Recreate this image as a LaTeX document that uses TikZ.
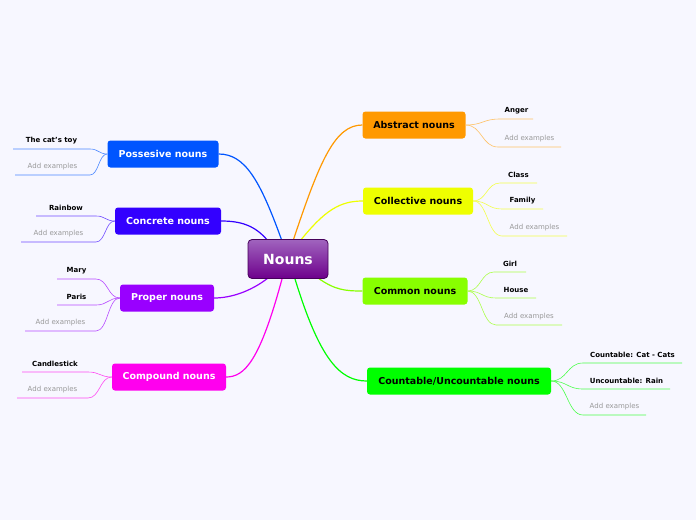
\documentclass[tikz,border=0pt]{standalone}
\usepackage{fontspec}
\setmainfont{DejaVu Sans}
\usetikzlibrary{calc}
\newcommand\leaf[8]{% name, from, color, inner-x, y, outer-x, style, text
 \coordinate (#1a) at (#4,#5); \coordinate (#1b) at (#6,#5);
 \coordinate (#1m) at ($(#2)!0.5!(#1a)$);
 \draw[ln,color=#3] (#2) .. controls (#1m |- #2) and (#1m |- #1a) .. (#1a) -- (#1b);
 \node[#7] (#1) at ($(#1a)!0.5!(#1b)+(0,-8)$) {#8};}
\begin{document}
\begin{tikzpicture}[x=1pt,y=-1pt,
 br/.style={rounded corners=3pt,font=\fontsize{9.5}{11}\selectfont\bfseries,inner sep=0,minimum height=27pt},
 lf/.style={font=\fontsize{7}{8}\selectfont\bfseries,inner sep=0},
 ad/.style={font=\fontsize{7}{8}\selectfont,text=gray!80,inner sep=0},
 ln/.style={line width=0.6pt}, cn/.style={line width=1.2pt}]
\fill[blue!3] (0,0) rectangle (696,520);
\useasboundingbox (0,0) rectangle (696,520);
\definecolor{cAb}{RGB}{255,153,0}
\definecolor{cCo}{RGB}{238,255,0}
\definecolor{cCm}{RGB}{136,255,0}
\definecolor{cCu}{RGB}{0,255,0}
\definecolor{cPo}{RGB}{0,85,255}
\definecolor{cCc}{RGB}{51,0,255}
\definecolor{cPr}{RGB}{153,0,255}
\definecolor{cCp}{RGB}{255,0,238}
% branches
\node[br,fill=cAb,minimum width=103pt] (ab) at (414,125) {Abstract nouns};
\node[br,fill=cCo,minimum width=110pt] (co) at (418,201) {Collective nouns};
\node[br,fill=cCm,minimum width=105pt] (cm) at (415,291) {Common nouns};
\node[br,fill=cCu,minimum width=184pt] (cu) at (459,381) {Countable/Uncountable nouns};
\node[br,fill=cPo,text=white,minimum width=111pt] (po) at (163,154) {Possesive nouns};
\node[br,fill=cCc,text=white,minimum width=106pt] (cc) at (168,221) {Concrete nouns};
\node[br,fill=cPr,text=white,minimum width=94pt] (pr) at (167,298) {Proper nouns};
\node[br,fill=cCp,text=white,minimum width=114pt] (cp) at (169,377) {Compound nouns};
% connectors from main
\draw[cn,cAb] (293,241) .. controls (320,160) and (335,125) .. (ab.west);
\draw[cn,cCo] (300,241) .. controls (325,210) and (340,201) .. (co.west);
\draw[cn,cCm] (318,278) .. controls (335,290) and (345,291) .. (cm.west);
\draw[cn,cCu] (295,279) .. controls (320,360) and (340,381) .. (cu.west);
\draw[cn,cPo] (282,241) .. controls (260,180) and (245,154) .. (po.east);
\draw[cn,cCc] (268,241) .. controls (255,225) and (240,221) .. (cc.east);
\draw[cn,cPr] (268,278) .. controls (250,292) and (230,298) .. (pr.east);
\draw[cn,cCp] (282,279) .. controls (260,360) and (245,377) .. (cp.east);
\node[draw={rgb,255:red,70;green,0;blue,90},line width=0.8pt,rounded corners=4pt,minimum width=80pt,minimum height=39pt,inner sep=0,
 top color={rgb,255:red,160;green,100;blue,190},bottom color={rgb,255:red,110;green,0;blue,140},
 text=white,font=\fontsize{14}{16}\selectfont\bfseries] (main) at (288,259) {Nouns};
% leaves
\leaf{l1}{ab.east}{cAb!60}{500}{119}{533}{lf}{Anger}
\leaf{l2}{ab.east}{cAb!60}{498}{147}{561}{ad}{Add examples}
\leaf{l3}{co.east}{cCo!70}{500}{183}{537}{lf}{Class}
\leaf{l4}{co.east}{cCo!70}{502}{209}{543}{lf}{Family}
\leaf{l5}{co.east}{cCo!70}{502}{236}{567}{ad}{Add examples}
\leaf{l6}{cm.east}{cCm!70}{494}{272}{526}{lf}{Girl}
\leaf{l7}{cm.east}{cCm!70}{496}{298}{536}{lf}{House}
\leaf{l8}{cm.east}{cCm!70}{496}{325}{562}{ad}{Add examples}
\leaf{l9}{cu.east}{cCu!70}{583}{363}{682}{lf}{Countable: Cat - Cats}
\leaf{l10}{cu.east}{cCu!70}{583}{389}{670}{lf}{Uncountable: Rain}
\leaf{l11}{cu.east}{cCu!70}{583}{415}{646}{ad}{Add examples}
\leaf{l12}{po.west}{cPo!70}{90}{149}{13}{lf}{The cat's toy}
\leaf{l13}{po.west}{cPo!70}{90}{175}{15}{ad}{Add examples}
\leaf{l14}{cc.west}{cCc!70}{96}{216}{36}{lf}{Rainbow}
\leaf{l15}{cc.west}{cCc!70}{96}{242}{21}{ad}{Add examples}
\leaf{l16}{pr.west}{cPr!70}{96}{279}{57}{lf}{Mary}
\leaf{l17}{pr.west}{cPr!70}{96}{305}{57}{lf}{Paris}
\leaf{l18}{pr.west}{cPr!70}{96}{331}{25}{ad}{Add examples}
\leaf{l19}{cp.west}{cCp!70}{88}{372}{22}{lf}{Candlestick}
\leaf{l20}{cp.west}{cCp!70}{88}{398}{17}{ad}{Add examples}
\end{tikzpicture}
\end{document}
